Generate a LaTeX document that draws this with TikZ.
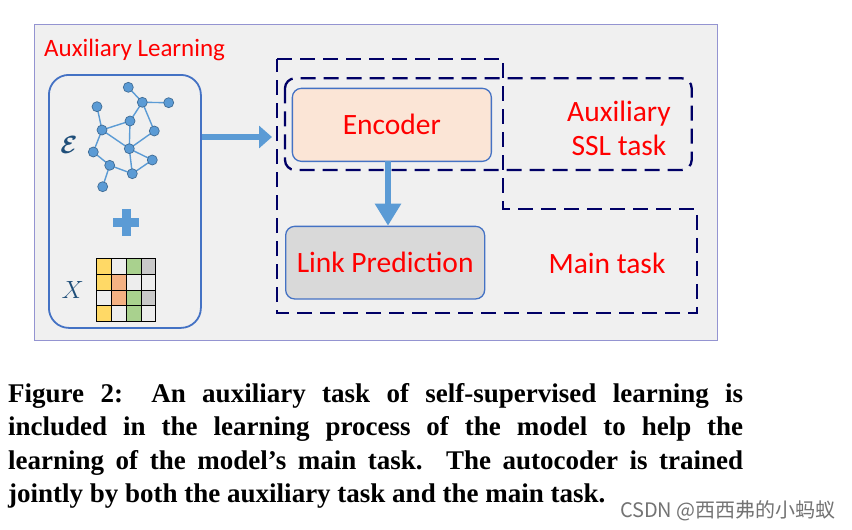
\documentclass[tikz,border=0pt]{standalone}
\usepackage{fontspec}
\usepackage{amsmath}
\usepackage{bm}
\setmainfont{Liberation Serif}
\newfontfamily\calib{Carlito}
\newfontfamily\cjkf{Noto Sans CJK SC}
\usetikzlibrary{arrows.meta}
\begin{document}
\begin{tikzpicture}[x=1pt,y=-1pt,
  lbl/.style={font=\calib\fontsize{29.5}{34}\selectfont, text=red},
  blk/.style={draw=bcol, line width=1.3pt, rounded corners=9pt},
  dsh/.style={draw=blue!40!black, line width=2.3pt, dash pattern=on 15pt off 8pt},
  gn/.style={circle, fill=gcol, draw=gcol!70!black, line width=0.7pt, inner sep=0pt, minimum size=10pt},
  ge/.style={draw=gcol, line width=1.4pt},
  captxt/.style={anchor=base west, font=\bfseries\fontsize{27}{30}\selectfont, inner sep=0pt}]
\definecolor{gcol}{HTML}{5B9BD5}
\definecolor{bcol}{HTML}{4472C4}
\definecolor{encf}{HTML}{FBE5D6}
\definecolor{cy}{HTML}{FFD966}
\definecolor{cg}{HTML}{A9D18E}
\definecolor{cgr}{HTML}{C9C9C9}
\definecolor{co}{HTML}{F4B183}
\definecolor{cw}{HTML}{EDEDED}
\definecolor{mathc}{HTML}{1F4E79}
\useasboundingbox (0,0) rectangle (852,530);
\fill[white] (0,0) rectangle (852,530);
\node[draw=gray!60!blue!60, fill=black!6, line width=1.3pt, minimum width=683pt, minimum height=316pt, anchor=north west, inner sep=0] (outer) at (34,24) {};
\node[text=red, anchor=west, font=\calib\fontsize{25}{28}\selectfont, inner sep=0] (al) at (44,50) {Auxiliary Learning};
\node[blk, line width=1.8pt, rounded corners=20pt, minimum width=152pt, minimum height=253pt, anchor=north west] (lbox) at (48,74) {};
% graph
\foreach \n/\x/\y in {1/128.3/87.3,2/142.3/102.3,3/168.7/102.7,4/97/106.7,5/130/121,6/102/130,7/154.3/131,8/129.3/148.7,9/93.3/152,10/152.3/160,11/109.7/165.3,12/132.3/173.7,13/102.7/186.7}
  \coordinate (c\n) at (\x,\y);
\foreach \a/\b in {1/2,2/3,2/5,2/7,4/6,6/5,6/8,6/9,5/8,7/8,8/10,8/12,10/12,9/11,11/12,11/13}
  \draw[ge] (c\a) -- (c\b);
\foreach \n in {1,...,13} \node[gn] (g\n) at (c\n) {};
\node[text=mathc, font=\fontsize{36}{36}\selectfont] (eps) at (69,145) {$\bm{\mathcal{E}}$};
\node[text=mathc, font=\fontsize{32}{32}\selectfont] (xx) at (72.7,290) {$X$};
\node[fill=gcol, minimum width=26pt, minimum height=9pt, inner sep=0] (plh) at (126,222.7) {};
\node[fill=gcol, minimum width=9pt, minimum height=27pt, inner sep=0] (plv) at (126,222.7) {};
% matrix
\foreach \r/\row in {0/{cy,cw,cg,cgr},1/{cy,co,cw,cw},2/{cw,co,cg,cgr},3/{cy,cw,cg,cw}}{
  \foreach \c [count=\j from 0] in \row
    \filldraw[fill=\c, draw=black, line width=0.8pt] (96.7+\j*14.75,258.3+\r*15.85) rectangle ++(14.75,15.85);
}
% dashed boxes
\draw[dsh] (277.3,59.3) -- (503.3,59.3) -- (503.3,209.3) -- (696.7,209.3) -- (696.7,313.3) -- (277.3,313.3) -- cycle;
\draw[dsh, rounded corners=10pt] (285,78.3) rectangle (691.7,170);
\node[blk, fill=encf, minimum width=199pt, minimum height=73pt, anchor=north west] (enc) at (291.7,87.7) {};
\node[lbl] at (enc.center) {Encoder};
\node[blk, fill=black!15, minimum width=199pt, minimum height=72.6pt, anchor=north west] (lp) at (285,225.7) {};
\node[lbl] at (lp.center) {Link Prediction};
\node[lbl, align=center] (ssl) at (619,128) {Auxiliary\\SSL task};
\node[lbl] (mt) at (607,263) {Main task};
% arrows
\draw[gcol, line width=6pt, -{Triangle[length=13pt,width=22pt]}] (lbox.east |- 0,137) -- (272,137);
\draw[gcol, line width=6pt, -{Triangle[length=22pt,width=25pt]}] (388,161) -- (388,225.7);
% caption
\node[captxt] (l1) at (8,402) {\makebox[735pt][s]{Figure 2: An auxiliary task of self-supervised learning is}};
\node[captxt] (l2) at (8,435.5) {\makebox[735pt][s]{included in the learning process of the model to help the}};
\node[captxt] (l3) at (8,469) {\makebox[735pt][s]{learning of the model's main task. The autocoder is trained}};
\node[captxt] (l4) at (8,502.5) {jointly by both the auxiliary task and the main task.};
\node[anchor=base east, text=black!55, font=\cjkf\fontsize{20}{22}\selectfont, inner sep=0] (wm) at (836,517) {CSDN @西西弗的小蚂蚁};
\end{tikzpicture}
\end{document}
